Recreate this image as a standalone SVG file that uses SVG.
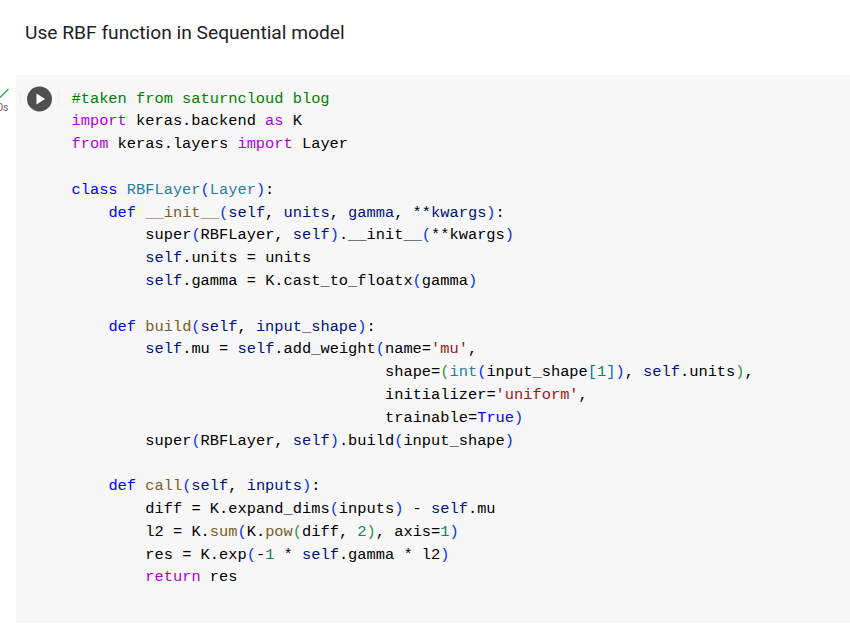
<svg xmlns="http://www.w3.org/2000/svg" width="850" height="627" viewBox="0 0 850 627">
<style>
.c{font-family:"Liberation Mono","DejaVu Sans Mono",monospace;font-size:15.37px;fill:#000;white-space:pre}
.k{fill:#af00db}.d{fill:#0000ff}.p{fill:#0431fa}.b{fill:#267f99}.f{fill:#795e26}.s{fill:#a31515}.n{fill:#098658}.g{fill:#008000}.v{fill:#001080}.y{fill:#319331}.t{fill:#0070c1}
</style>
<rect width="850" height="627" fill="#fff"/>
<rect x="16" y="75" width="834" height="548" fill="#f7f7f7"/>
<text x="25" y="39" font-family="Roboto,sans-serif" font-size="19.2" fill="#202124">Use RBF function in Sequential model</text>
<path d="M0 97.500L8.500 89" fill="none" stroke="#34a853" stroke-width="1.500"/>
<text x="-2.800" y="111" font-family="Roboto,sans-serif" font-size="10.500" fill="#5f6368">0s</text>
<path d="M22.500 92H20.500V105H22.500M57 92H59V105H57" fill="none" stroke="#eeeeee" stroke-width="1"/>
<circle cx="39.500" cy="99" r="12.500" fill="#4f4f4f"/>
<path d="M36.500 93.500L45 99L36.500 104.500Z" fill="#fff"/>
<g class="c">
<text x="71.500" y="103" class="g">#taken from saturncloud blog</text>
<text x="71.500" y="125"><tspan class="k">import</tspan> keras.backend <tspan class="k">as</tspan> K</text>
<text x="71.500" y="148"><tspan class="k">from</tspan> keras.layers <tspan class="k">import</tspan> Layer</text>
<text x="71.500" y="194"><tspan class="d">class</tspan> <tspan class="b">RBFLayer</tspan><tspan class="p">(</tspan><tspan class="b">Layer</tspan><tspan class="p">)</tspan>:</text>
<text x="108.400" y="217"><tspan class="d">def</tspan> <tspan class="f">__init__</tspan><tspan class="p">(</tspan><tspan class="v">self</tspan>, <tspan class="v">units</tspan>, <tspan class="v">gamma</tspan>, **<tspan class="v">kwargs</tspan><tspan class="p">)</tspan>:</text>
<text x="145.300" y="239">super<tspan class="p">(</tspan>RBFLayer, <tspan class="v">self</tspan><tspan class="p">)</tspan>.__init__<tspan class="p">(</tspan>**kwargs<tspan class="p">)</tspan></text>
<text x="145.300" y="262"><tspan class="v">self</tspan>.units = units</text>
<text x="145.300" y="285"><tspan class="v">self</tspan>.gamma = K.cast_to_floatx<tspan class="p">(</tspan>gamma<tspan class="p">)</tspan></text>
<text x="108.400" y="331"><tspan class="d">def</tspan> <tspan class="f">build</tspan><tspan class="p">(</tspan><tspan class="v">self</tspan>, <tspan class="v">input_shape</tspan><tspan class="p">)</tspan>:</text>
<text x="145.300" y="353"><tspan class="v">self</tspan>.mu = <tspan class="v">self</tspan>.add_weight<tspan class="p">(</tspan>name=<tspan class="s">'mu'</tspan>,</text>
<text x="385" y="376">shape=<tspan class="y">(</tspan><tspan class="b">int</tspan><tspan class="p">(</tspan>input_shape<tspan class="t">[</tspan><tspan class="n">1</tspan><tspan class="t">]</tspan><tspan class="p">)</tspan>, <tspan class="v">self</tspan>.units<tspan class="y">)</tspan>,</text>
<text x="385" y="399">initializer=<tspan class="s">'uniform'</tspan>,</text>
<text x="385" y="422">trainable=<tspan class="d">True</tspan><tspan class="p">)</tspan></text>
<text x="145.300" y="445">super<tspan class="p">(</tspan>RBFLayer, <tspan class="v">self</tspan><tspan class="p">)</tspan>.build<tspan class="p">(</tspan>input_shape<tspan class="p">)</tspan></text>
<text x="108.400" y="490"><tspan class="d">def</tspan> <tspan class="f">call</tspan><tspan class="p">(</tspan><tspan class="v">self</tspan>, <tspan class="v">inputs</tspan><tspan class="p">)</tspan>:</text>
<text x="145.300" y="513">diff = K.expand_dims<tspan class="p">(</tspan>inputs<tspan class="p">)</tspan> - <tspan class="v">self</tspan>.mu</text>
<text x="145.300" y="536">l2 = K.<tspan class="f">sum</tspan><tspan class="p">(</tspan>K.<tspan class="f">pow</tspan><tspan class="y">(</tspan>diff, <tspan class="n">2</tspan><tspan class="y">)</tspan>, axis=<tspan class="n">1</tspan><tspan class="p">)</tspan></text>
<text x="145.300" y="559">res = K.exp<tspan class="p">(</tspan>-<tspan class="n">1</tspan> * <tspan class="v">self</tspan>.gamma * l2<tspan class="p">)</tspan></text>
<text x="145.300" y="581"><tspan class="k">return</tspan> res</text>
</g>
</svg>
